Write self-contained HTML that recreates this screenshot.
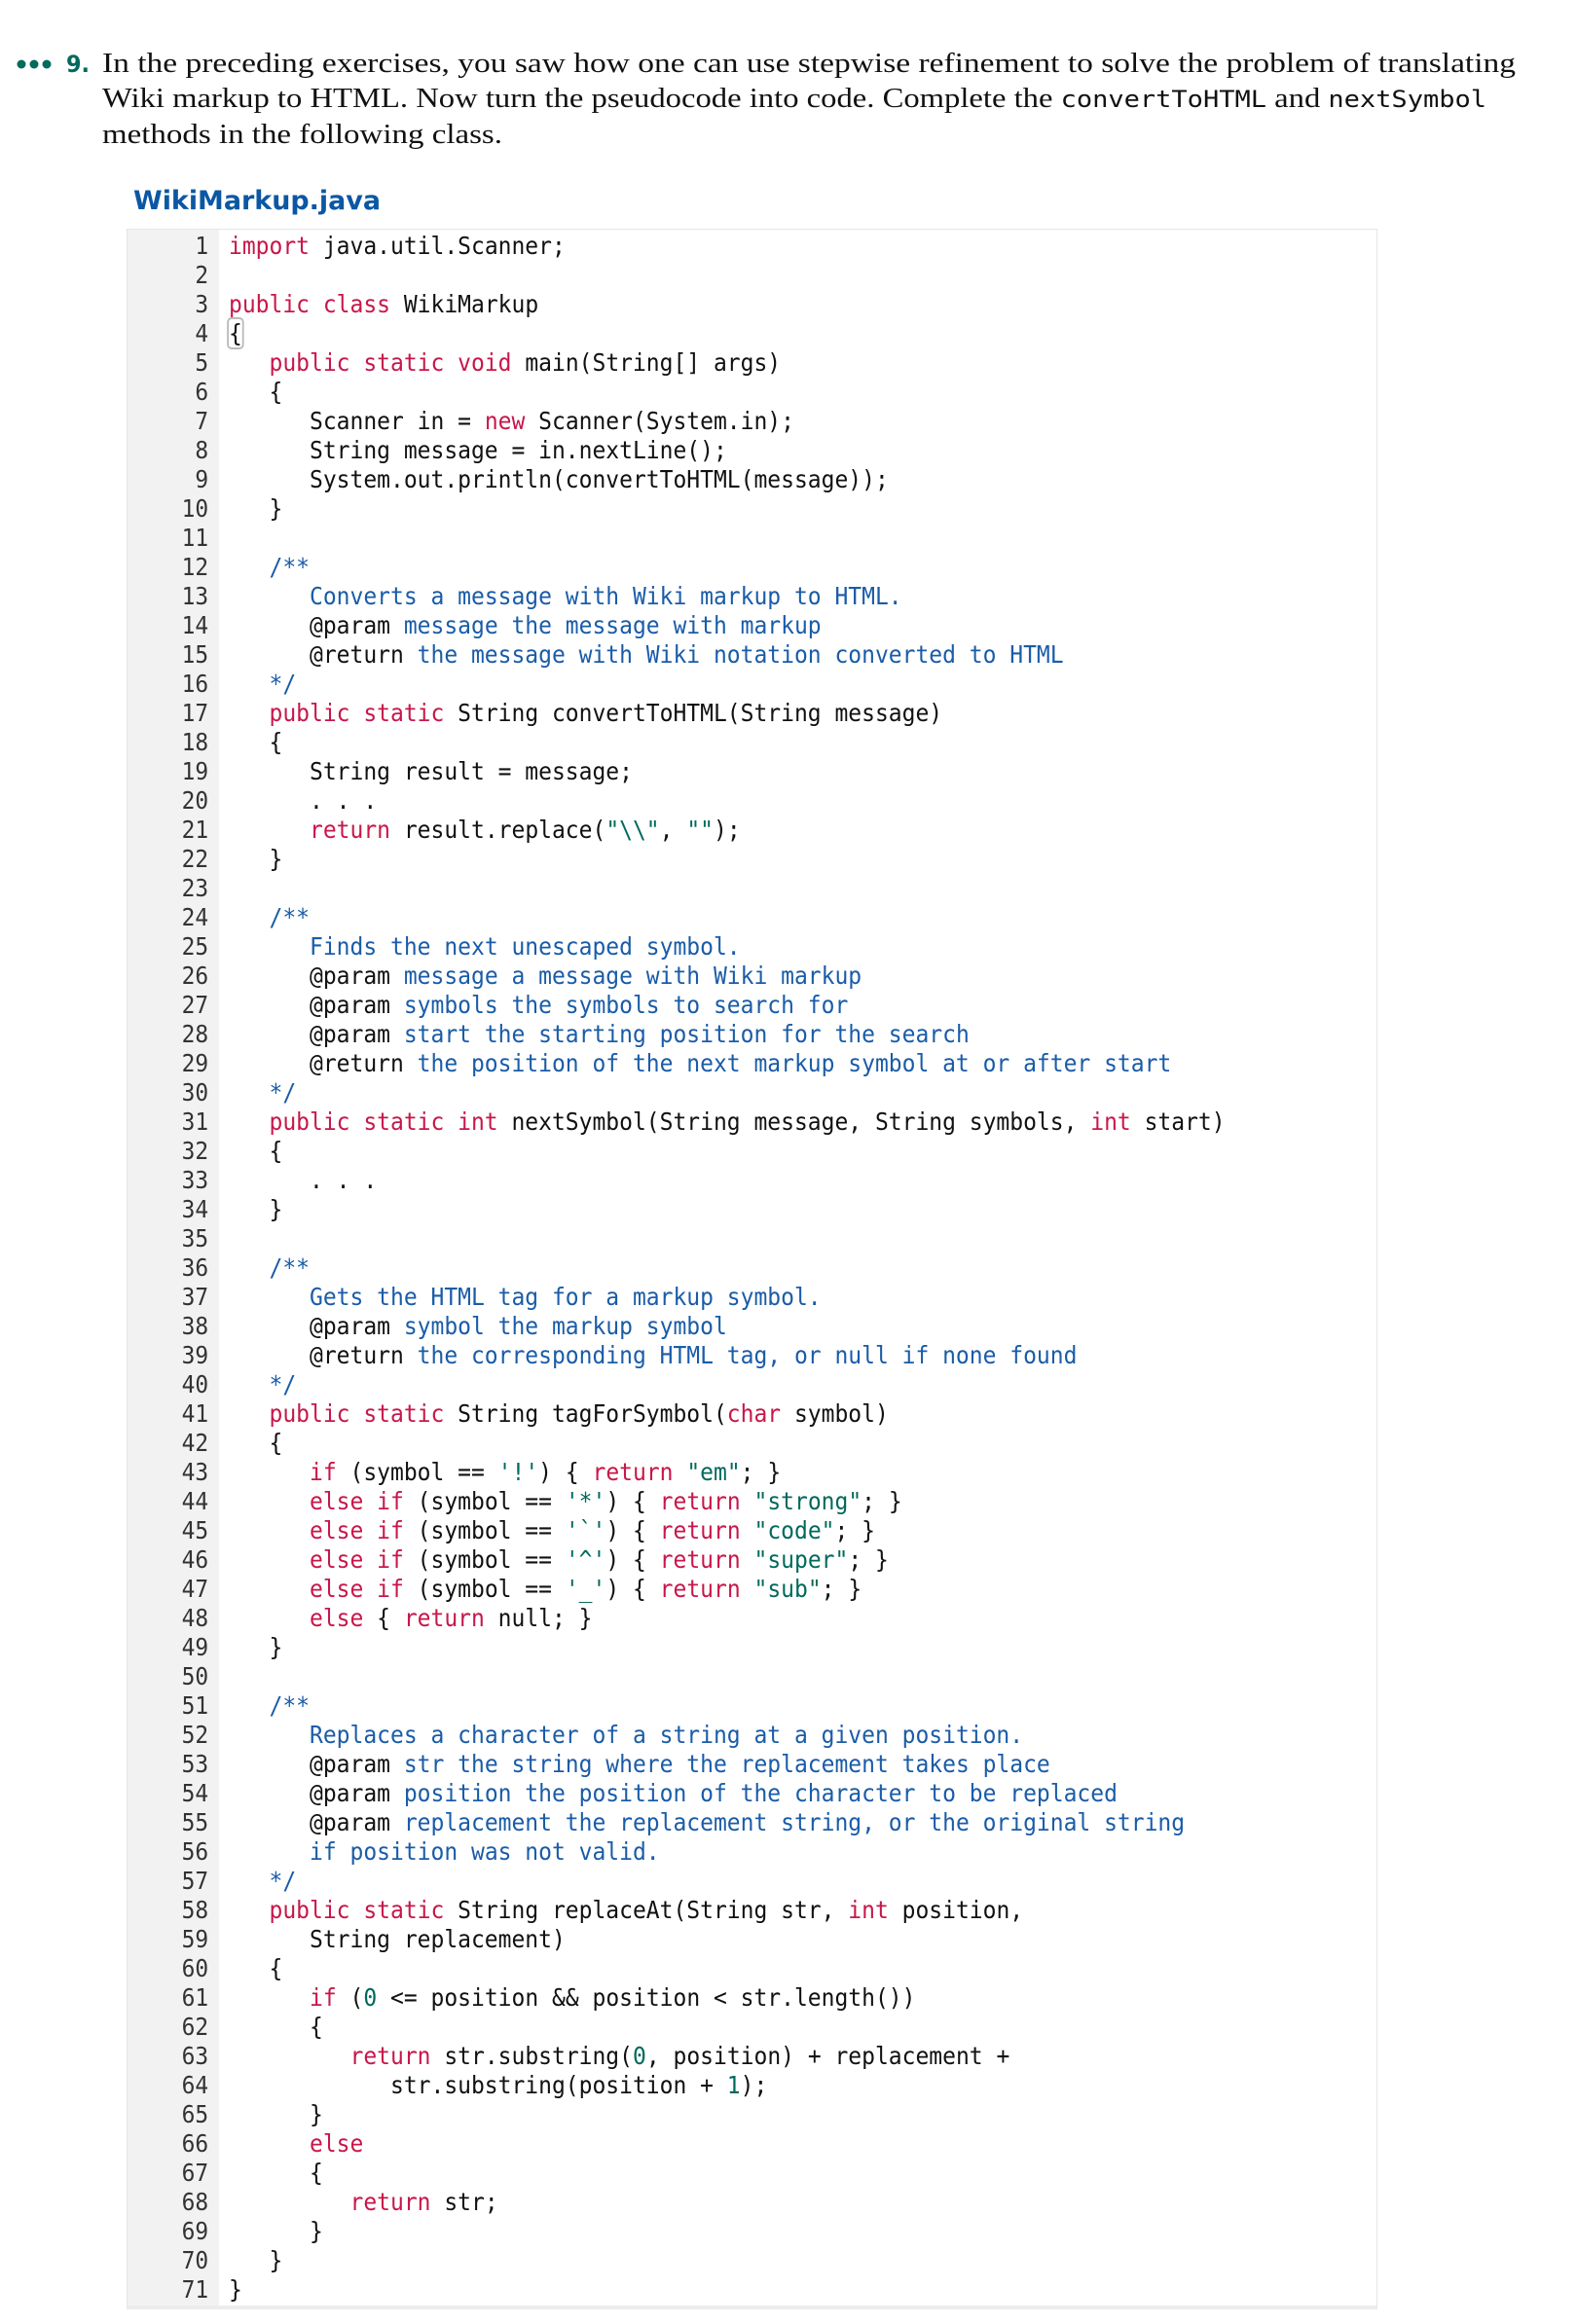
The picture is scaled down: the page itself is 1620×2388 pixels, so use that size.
<!DOCTYPE html>
<html><head><meta charset="utf-8">
<style>
html,body{margin:0;padding:0;background:#fff;}
body{width:1620px;height:2388px;position:relative;overflow:hidden;}
svg.head{position:absolute;left:0;top:0;}
.box{position:absolute;left:130px;top:235px;width:1283px;height:2133px;border:1px solid #e6e6e6;border-bottom:4px solid #ececec;background:#fff;}
.gut{position:absolute;left:0;top:0;width:94px;height:100%;background:#f2f2f2;}
.nums{position:absolute;right:calc(100% - 83px);top:2px;font-family:"DejaVu Sans Mono",monospace;font-size:25px;line-height:30px;color:#333;text-align:right;white-space:pre;transform:scaleX(0.913);transform-origin:right top;}
.code{position:absolute;left:104px;top:2px;font-family:"DejaVu Sans Mono",monospace;font-size:25px;line-height:30px;color:#111;white-space:pre;transform:scaleX(0.919);transform-origin:left top;margin:0;}
.k{color:#c8174a}.c{color:#1a5ca8}.s{color:#00695c}
.br{outline:2px solid #bbb;border-radius:3px;}
</style></head><body>
<svg class="head" width="1620" height="230">
<circle cx="22" cy="66" r="4.5" fill="#006b5e"/><circle cx="35" cy="66" r="4.5" fill="#006b5e"/><circle cx="48" cy="66" r="4.5" fill="#006b5e"/>
<text x="68" y="74" font-family="DejaVu Sans" font-weight="bold" font-size="24" fill="#006b5e" textLength="24" lengthAdjust="spacingAndGlyphs">9.</text>
<text x="105" y="74" font-family="Liberation Serif" font-size="29" fill="#111" textLength="1452" lengthAdjust="spacingAndGlyphs">In the preceding exercises, you saw how one can use stepwise refinement to solve the problem of translating</text>
<text x="105" y="110" font-family="Liberation Serif" font-size="29" fill="#111" textLength="1422" lengthAdjust="spacingAndGlyphs">Wiki markup to HTML. Now turn the pseudocode into code. Complete the <tspan font-family="DejaVu Sans Mono" font-size="24">convertToHTML</tspan> and <tspan font-family="DejaVu Sans Mono" font-size="24">nextSymbol</tspan></text>
<text x="105" y="147" font-family="Liberation Serif" font-size="29" fill="#111" textLength="411" lengthAdjust="spacingAndGlyphs">methods in the following class.</text>
<text x="137" y="215" font-family="DejaVu Sans" font-weight="bold" font-size="27" fill="#0b57a4" textLength="254" lengthAdjust="spacingAndGlyphs">WikiMarkup.java</text>
</svg>
<div class="box"><div class="gut"></div>
<div class="nums">1
2
3
4
5
6
7
8
9
10
11
12
13
14
15
16
17
18
19
20
21
22
23
24
25
26
27
28
29
30
31
32
33
34
35
36
37
38
39
40
41
42
43
44
45
46
47
48
49
50
51
52
53
54
55
56
57
58
59
60
61
62
63
64
65
66
67
68
69
70
71</div>
<pre class="code"><span class="k">import</span> java.util.Scanner;

<span class="k">public class</span> WikiMarkup
<span class="br">{</span>
   <span class="k">public static void</span> main(String[] args)
   {
      Scanner in = <span class="k">new</span> Scanner(System.in);
      String message = in.nextLine();
      System.out.println(convertToHTML(message));
   }

   <span class="c">/**</span>
      <span class="c">Converts a message with Wiki markup to HTML.</span>
      @param <span class="c">message the message with markup</span>
      @return <span class="c">the message with Wiki notation converted to HTML</span>
   <span class="c">*/</span>
   <span class="k">public static</span> String convertToHTML(String message)
   {
      String result = message;
      . . .
      <span class="k">return</span> result.replace(<span class="s">"\\"</span>, <span class="s">""</span>);
   }

   <span class="c">/**</span>
      <span class="c">Finds the next unescaped symbol.</span>
      @param <span class="c">message a message with Wiki markup</span>
      @param <span class="c">symbols the symbols to search for</span>
      @param <span class="c">start the starting position for the search</span>
      @return <span class="c">the position of the next markup symbol at or after start</span>
   <span class="c">*/</span>
   <span class="k">public static int</span> nextSymbol(String message, String symbols, <span class="k">int</span> start)
   {
      . . .
   }

   <span class="c">/**</span>
      <span class="c">Gets the HTML tag for a markup symbol.</span>
      @param <span class="c">symbol the markup symbol</span>
      @return <span class="c">the corresponding HTML tag, or null if none found</span>
   <span class="c">*/</span>
   <span class="k">public static</span> String tagForSymbol(<span class="k">char</span> symbol)
   {
      <span class="k">if</span> (symbol == <span class="s">'!'</span>) { <span class="k">return</span> <span class="s">"em"</span>; }
      <span class="k">else if</span> (symbol == <span class="s">'*'</span>) { <span class="k">return</span> <span class="s">"strong"</span>; }
      <span class="k">else if</span> (symbol == <span class="s">'`'</span>) { <span class="k">return</span> <span class="s">"code"</span>; }
      <span class="k">else if</span> (symbol == <span class="s">'^'</span>) { <span class="k">return</span> <span class="s">"super"</span>; }
      <span class="k">else if</span> (symbol == <span class="s">'_'</span>) { <span class="k">return</span> <span class="s">"sub"</span>; }
      <span class="k">else</span> { <span class="k">return</span> null; }
   }

   <span class="c">/**</span>
      <span class="c">Replaces a character of a string at a given position.</span>
      @param <span class="c">str the string where the replacement takes place</span>
      @param <span class="c">position the position of the character to be replaced</span>
      @param <span class="c">replacement the replacement string, or the original string</span>
      <span class="c">if position was not valid.</span>
   <span class="c">*/</span>
   <span class="k">public static</span> String replaceAt(String str, <span class="k">int</span> position,
      String replacement)
   {
      <span class="k">if</span> (<span class="s">0</span> &lt;= position &amp;&amp; position &lt; str.length())
      {
         <span class="k">return</span> str.substring(<span class="s">0</span>, position) + replacement +
            str.substring(position + <span class="s">1</span>);
      }
      <span class="k">else</span>
      {
         <span class="k">return</span> str;
      }
   }
}</pre>
</div>
</body></html>
